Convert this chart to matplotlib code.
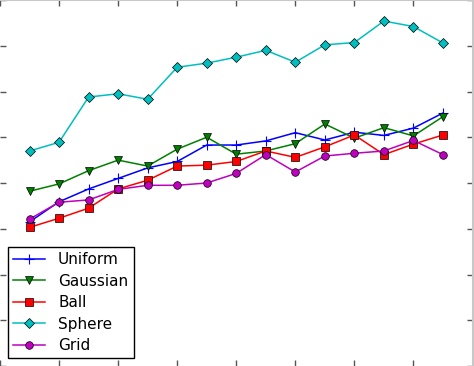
import numpy as np
import matplotlib
matplotlib.use("Agg")
import matplotlib.pyplot as plt

# x positions of the samples (ticks every 2 units)
x = np.arange(1, 16)

uniform = [3.15, 3.59, 3.87, 4.10, 4.33, 4.47, 4.83, 4.83, 4.92, 5.10, 4.94, 5.11, 5.04, 5.20, 5.53]
gaussian = [3.82, 3.98, 4.27, 4.50, 4.37, 4.74, 5.00, 4.63, 4.70, 4.86, 5.29, 4.98, 5.21, 5.03, 5.45]
ball = [3.03, 3.23, 3.45, 3.87, 4.06, 4.37, 4.39, 4.47, 4.70, 4.56, 4.79, 5.05, 4.62, 4.85, 5.05]
sphere = [4.70, 4.89, 5.88, 5.95, 5.83, 6.53, 6.62, 6.75, 6.90, 6.64, 7.02, 7.07, 7.54, 7.42, 7.06]
grid = [3.21, 3.58, 3.63, 3.86, 3.95, 3.95, 4.00, 4.21, 4.62, 4.24, 4.59, 4.65, 4.70, 4.93, 4.62]

fig = plt.figure(figsize=(4.74, 3.66), dpi=100)
ax = fig.add_axes([0, 0, 472.5 / 474, 1])

ms = 5.5
ax.plot(x, uniform, color='b', marker='+', ms=6.5, mew=0.8, lw=1.1, label='Uniform')
ax.plot(x, gaussian, color=(0, 0.5, 0), marker='v', ms=ms, mec='k', mew=0.5, lw=1.1, label='Gaussian')
ax.plot(x, ball, color='r', marker='s', ms=ms, mec='k', mew=0.5, lw=1.1, label='Ball')
ax.plot(x, sphere, color=(0, 0.75, 0.75), marker='D', ms=ms, mec='k', mew=0.5, lw=1.1, label='Sphere')
ax.plot(x, grid, color=(0.75, 0, 0.75), marker='o', ms=ms, mec='k', mew=0.5, lw=1.1, label='Grid')

ax.set_xlim(0, 16)
ax.set_ylim(0, 8)
ax.set_xticks(np.arange(0, 17, 2))
ax.set_yticks(np.arange(0, 9, 1))
ax.tick_params(direction='in', length=4, width=1, color='#555555',
               top=True, right=True, labelbottom=False, labelleft=False)
for s in ax.spines.values():
    s.set_color('#c8c8c8')
    s.set_linewidth(1.5)
# the picture is cropped: left and bottom borders are not seen
ax.spines['left'].set_visible(False)
ax.spines['bottom'].set_visible(False)

leg = ax.legend(loc='lower left', prop={'size': 11}, fancybox=False,
                borderaxespad=0.5, labelspacing=0.42, handlelength=2.1,
                handletextpad=0.85, borderpad=0.35, framealpha=1)
leg.get_frame().set_edgecolor('k')
leg.get_frame().set_linewidth(1)

fig.savefig('out.png', dpi=100)
